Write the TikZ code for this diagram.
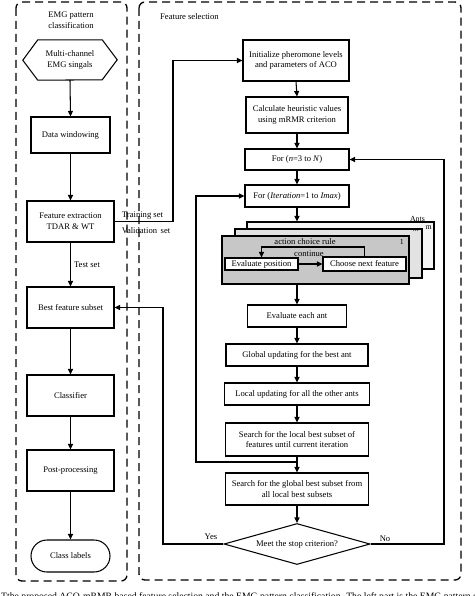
\documentclass[tikz,border=0pt]{standalone}
\usepackage{fontspec}
\setmainfont{Liberation Serif}
\usetikzlibrary{arrows.meta,shapes.geometric}
\begin{document}
\begin{tikzpicture}[x=1pt,y=-1pt,
  every node/.style={font=\fontsize{8.6}{10.8}\selectfont},
  box/.style={draw, line width=1.05pt, inner sep=0pt, align=center, fill=white},
  lnk/.style={line width=1.05pt},
  arr/.style={line width=1.05pt, -{Triangle[length=5.5pt,width=5pt]}},
  panel/.style={line width=1.3pt, dash pattern=on 8pt off 5pt, rounded corners=6pt},
  lbl/.style={inner sep=0pt, font=\fontsize{8.6}{10.8}\selectfont},
  small/.style={inner sep=0pt, font=\fontsize{7.8}{9}\selectfont}]
\useasboundingbox (0,0) rectangle (474,596);
\begin{scope}
\clip (0,0) rectangle (474,596);
% panels
\draw[panel] (16,2) rectangle (127,581);
\draw[panel] (139,2) rectangle (461,580);
\node[lbl, align=center] (tl) at (71,20) {EMG pattern\\classification};
\node[lbl, anchor=west] (tr) at (160,17) {Feature selection};
% left column
\node[inner sep=0pt, minimum width=64pt, minimum height=40pt, align=center] (hex) at (70,60) {Multi-channel\\EMG singals};
\draw[line width=1.05pt] (hex.north west) -- (hex.north east) -- ++(15,20) -- ++(-15,20) -- (hex.south west) -- ++(-15,-20) -- cycle;
\node[box, minimum width=79pt, minimum height=36pt] (dw) at (70.5,135) {Data windowing};
\node[box, minimum width=87pt, minimum height=41pt] (fe) at (70.5,221.5) {Feature extraction\\TDAR \& WT};
\node[box, minimum width=87pt, minimum height=41pt] (bf) at (70.5,307.5) {Best feature subset};
\node[box, minimum width=87pt, minimum height=41pt] (cl) at (70.5,395.5) {Classifier};
\node[box, minimum width=87pt, minimum height=41pt] (pp) at (70.5,470.5) {Post-processing};
\node[box, rounded corners=16pt, minimum width=79pt, minimum height=32pt] (lab) at (70.5,556) {Class labels};
\draw[arr] (hex.south) -- (dw.north);
\draw[arr] (dw.south) -- (fe.north);
\draw[arr] (fe.south) -- node[lbl, right=3pt] (ts) {Test set} (bf.north);
\draw[arr] (bf.south) -- (cl.north);
\draw[arr] (cl.south) -- (pp.north);
\draw[arr] (pp.south) -- (lab.north);
% right column
\node[box, minimum width=106pt, minimum height=41pt] (ini) at (296,60.5) {Initialize pheromone levels\\and parameters of ACO};
\node[box, minimum width=102pt, minimum height=36pt] (calc) at (297,115) {Calculate heuristic values\\using mRMR criterion};
\node[box, minimum width=104pt, minimum height=21pt] (forn) at (297,159.5) {For (\textit{n}=3 to \textit{N})};
\node[box, minimum width=104pt, minimum height=22pt] (fori) at (297,196) {For (\textit{Iteration}=1 to \textit{Imax})};
% ants stack
\node[draw, line width=1.05pt, fill=black!4, minimum width=187pt, minimum height=47pt, inner sep=0pt] (antc) at (340.5,245.5) {};
\node[draw, line width=1.05pt, fill=black!11, minimum width=187pt, minimum height=49pt, inner sep=0pt] (antb) at (328.5,253.5) {};
\node[draw, line width=1.05pt, fill=black!22, minimum width=187pt, minimum height=48pt, inner sep=0pt] (anta) at (315.5,260) {};
\node[small, anchor=base east] (antsl) at (425,221.5) {Ants};
\node[small, anchor=north east] (ml) at (432,226) {m};
\node[small, anchor=north east] (dl) at (419,230) {...};
\node[small, anchor=north east] (onel) at (404,239) {1};
\node[box, minimum width=73pt, minimum height=12pt] (ep) at (261.5,264) {Evaluate position};
\node[box, minimum width=83pt, minimum height=14pt] (cn) at (364.5,264) {Choose next feature};
\draw[arr] (ep.east) -- (cn.west);
\coordinate (l1) at (364.5,247);
\coordinate (l2) at (261.5,247);
\draw[arr] (cn.north) -- (l1) -- (l2) -- (ep.north);
\node[lbl] (acr) at (305,242) {action choice rule};
\node[lbl] (cont) at (309,253.5) {continue};
\draw[arr] (fori.south) -- (fori.south |- antc.north);
\node[box, minimum width=99pt, minimum height=22pt] (eva) at (297,316) {Evaluate each ant};
\draw[arr] (anta.south -| eva.north) -- (eva.north);
\node[box, minimum width=142pt, minimum height=22pt] (glo) at (297,355) {Global updating for the best ant};
\node[box, minimum width=145pt, minimum height=22pt] (loc) at (297,394) {Local updating for all the other ants};
\node[box, minimum width=143pt, minimum height=33pt] (sl) at (297,439.5) {Search for the local best subset of\\features until current iteration};
\node[box, minimum width=143pt, minimum height=32pt] (sg) at (297,489) {Search for the global best subset from\\all local best subsets};
\node[draw, line width=1.05pt, shape=diamond, aspect=3.56, minimum width=146pt, minimum height=41pt, inner sep=0pt] (stop) at (297,544) {};
\node[lbl] (stopt) at (297,544) {Meet the stop criterion?};
\draw[arr] (ini.south) -- (calc.north);
\draw[arr] (calc.south) -- (forn.north);
\draw[arr] (forn.south) -- (fori.north);
\draw[arr] (eva.south) -- (glo.north);
\draw[arr] (glo.south) -- (loc.north);
\draw[arr] (loc.south) -- (sl.north);
\coordinate (j) at (297,462);
\draw[lnk] (sl.south) -- (j);
\draw[arr] (j) -- (sg.north);
\coordinate (j2) at (196,462);
\draw[arr] (j) -- (j2) -- (j2 |- fori.west) -- (fori.west);
\draw[arr] (sg.south) -- (stop.north);
\coordinate (y1) at (163,544);
\draw[arr] (stop.west) -- (y1) -- (y1 |- bf.east) -- (bf.east);
\node[lbl] (yes) at (211,536.5) {Yes};
\coordinate (n1) at (444,544);
\draw[arr] (stop.east) -- (n1) -- (n1 |- forn.east) -- (forn.east);
\node[lbl] (no) at (385,539) {No};
\coordinate (t1) at (173,221.5);
\draw[arr] (fe.east) -- (t1) -- (t1 |- ini.west) -- (ini.west);
\node[lbl] (trs) at (142.5,215.5) {Training set};
\node[lbl] (vas) at (146,231) {Validation\, set};
% cut caption
\node[inner sep=0pt, font=\fontsize{9.7}{11}\selectfont, anchor=base west] (cap) at (1,599.5) {Tthe proposed ACO-mRMR based feature selection and the EMG pattern classification. The left part is the EMG pattern c};
\end{scope}
\end{tikzpicture}
\end{document}
